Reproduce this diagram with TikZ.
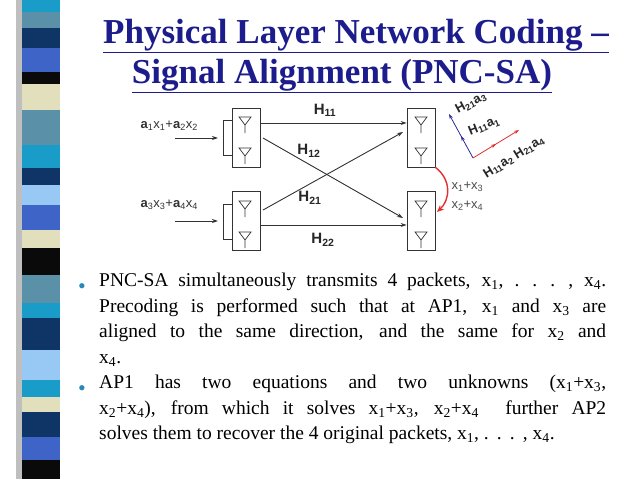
\documentclass[tikz,border=0pt]{standalone}
\usepackage{fontspec}
\setmainfont{Liberation Serif}
\setsansfont{Liberation Sans}
\usetikzlibrary{arrows.meta,decorations.markings}
\definecolor{ttl}{HTML}{1C1C8C}
\definecolor{cyb}{HTML}{1A9CC8}
\definecolor{stb}{HTML}{5A90A8}
\definecolor{nvy}{HTML}{0E3566}
\definecolor{roy}{HTML}{3E64C8}
\definecolor{bge}{HTML}{E2E0BC}
\definecolor{lbl}{HTML}{98C8F4}
\definecolor{blk}{HTML}{0A0A0A}
\definecolor{bul}{HTML}{2A88B8}
\definecolor{vred}{HTML}{E23030}
\definecolor{vblu}{HTML}{2A2A9A}
\newcommand{\sub}[1]{\textsubscript{#1}}
\newcommand{\dts}{.\,~.\,~.\,~}
\tikzset{
 box/.style={draw=black!80,line width=0.8pt},
 link/.style={draw=black!80,line width=0.9pt,-{Stealth[length=6pt,width=4pt]}},
 hl/.style={font=\sffamily\bfseries\fontsize{15}{15}\selectfont,text=black!85},
 inl/.style={font=\sffamily\fontsize{13}{13}\selectfont,text=black!80},
 vlab/.style={font=\sffamily\bfseries\fontsize{13}{13}\selectfont,text=black!85,inner sep=0pt},
 body/.style={anchor=north west,inner sep=0,text width=507pt,align=justify,font=\fontsize{19.5}{25.5}\selectfont},
 ttlf/.style={font=\bfseries\fontsize{35}{40}\selectfont,text=ttl},
}
\newcommand{\ant}[2]{\draw[black!80,line width=0.7pt] (#1-6,#2) -- (#1+6,#2) -- (#1,#2+8) -- cycle (#1,#2+8) -- (#1,#2+16);}
\begin{document}
\begin{tikzpicture}[x=1pt,y=-1pt]
\fill[white] (0,0) rectangle (638,479);
\useasboundingbox (0,0) rectangle (638,479);
% strip
\foreach \a/\b/\c in {0/12/cyb,12/28/stb,28/48/nvy,48/72/roy,72/84/blk,84/110/bge,110/145/stb,145/168/cyb,168/185/nvy,185/205/lbl,205/230/roy,230/248/bge,248/275/blk,275/303/stb,303/318/cyb,318/350/nvy,350/380/lbl,380/397/cyb,397/412/bge,412/437/nvy,437/460/roy,460/479/blk}
  \fill[\c] (22,\a) rectangle (60,\b);
\fill[black!25] (16,0) rectangle (22,479);
% title
\node[ttlf] (t1) at (356,36) {\underline{Physical Layer Network Coding –}};
\node[ttlf] (t2) at (342,76) {\underline{Signal Alignment (PNC-SA)}};
% boxes
\node[box,minimum width=28pt,minimum height=59pt,inner sep=0] (tl) at (246,137.5) {};
\node[box,minimum width=28pt,minimum height=59pt,inner sep=0] (bl) at (246,221) {};
\node[box,minimum width=28pt,minimum height=59pt,inner sep=0] (tr) at (421,137.5) {};
\node[box,minimum width=28pt,minimum height=59pt,inner sep=0] (br) at (421,221) {};
\draw[box] (232,120) -- (223,120) -- (223,155) -- (232,155);
\draw[box] (232,204) -- (223,204) -- (223,239) -- (232,239);
\ant{245}{117}\ant{245}{148}\ant{245}{201}\ant{245}{232}
\ant{421}{117}\ant{421}{148}\ant{421}{201}\ant{421}{232}
% inputs
\node[inl,anchor=west] (in1) at (137,126) {\textbf{a}\sub{1}x\sub{1}+\textbf{a}\sub{2}x\sub{2}};
\node[inl,anchor=west] (in2) at (137,205) {\textbf{a}\sub{3}x\sub{3}+\textbf{a}\sub{4}x\sub{4}};
\coordinate (i1) at (175,138); \coordinate (i1e) at (218,138);
\coordinate (i2) at (175,221); \coordinate (i2e) at (218,221);
\draw[link] (i1) -- (i1e);
\draw[link] (i2) -- (i2e);
% links
\draw[link] (tl.east|-0,123) -- (tr.west|-0,123);
\draw[link] (263,138) -- (403,218);
\draw[link] (263,210) -- (403,132);
\draw[link] (bl.east|-0,225) -- (br.west|-0,225);
\node[hl] (h11) at (325,110) {H\sub{11}};
\node[hl] (h12) at (309,151) {H\sub{12}};
\node[hl] (h21) at (310,198) {H\sub{21}};
\node[hl] (h22) at (323,240) {H\sub{22}};
% red curved arrow
\draw[vred,line width=1.4pt,-{Stealth[length=7pt,width=6pt]}] (tr.south east) .. controls (452,180) and (450,200) .. (437,212);
\node[inl,anchor=west,text=black!70] (s1) at (448,187) {x\sub{1}+x\sub{3}};
\node[inl,anchor=west,text=black!70] (s2) at (448,206) {x\sub{2}+x\sub{4}};
% vectors
\coordinate (o) at (473,158);
\coordinate (vb) at (449,114);
\coordinate (vr) at (519,130);
\draw[vblu,line width=0.8pt,-{Stealth[length=5pt,width=3.5pt]},postaction={decorate},decoration={markings,mark=at position 0.5 with {\arrow{Stealth[length=5pt,width=3.5pt]}}}] (o) -- (vb);
\draw[vred,line width=0.8pt,-{Stealth[length=5pt,width=3.5pt]},postaction={decorate},decoration={markings,mark=at position 0.5 with {\arrow{Stealth[length=5pt,width=3.5pt]}}}] (o) -- (vr);
\node[vlab,rotate=28] (l1) at (471,103) {H\sub{21}a\sub{3}};
\node[vlab,rotate=22] (l2) at (484,126) {H\sub{11}a\sub{1}};
\node[vlab,rotate=32] (l3) at (514,157) {H\sub{11}a\sub{2} H\sub{21}a\sub{4}};
% bullets
\node[body] (p1) at (99,273) {PNC-SA simultaneously transmits 4 packets, x\sub{1}, \dts, x\sub{4}.\linebreak Precoding is performed such that at AP1, x\sub{1} and x\sub{3} are\linebreak aligned to the same direction, and the same for x\sub{2} and\linebreak x\sub{4}.};
\node[body] (p2) at (99,375) {AP1 has two equations and two unknowns (x\sub{1}+x\sub{3},\linebreak x\sub{2}+x\sub{4}), from which it solves x\sub{1}+x\sub{3}, x\sub{2}+x\sub{4}\ \ further AP2\linebreak solves them to recover the 4 original packets, x\sub{1}, \dts, x\sub{4}.};
\node[text=bul,font=\fontsize{22}{22}\selectfont] (b1) at (82,289) {•};
\node[text=bul,font=\fontsize{22}{22}\selectfont] (b2) at (82,391) {•};
\end{tikzpicture}
\end{document}
